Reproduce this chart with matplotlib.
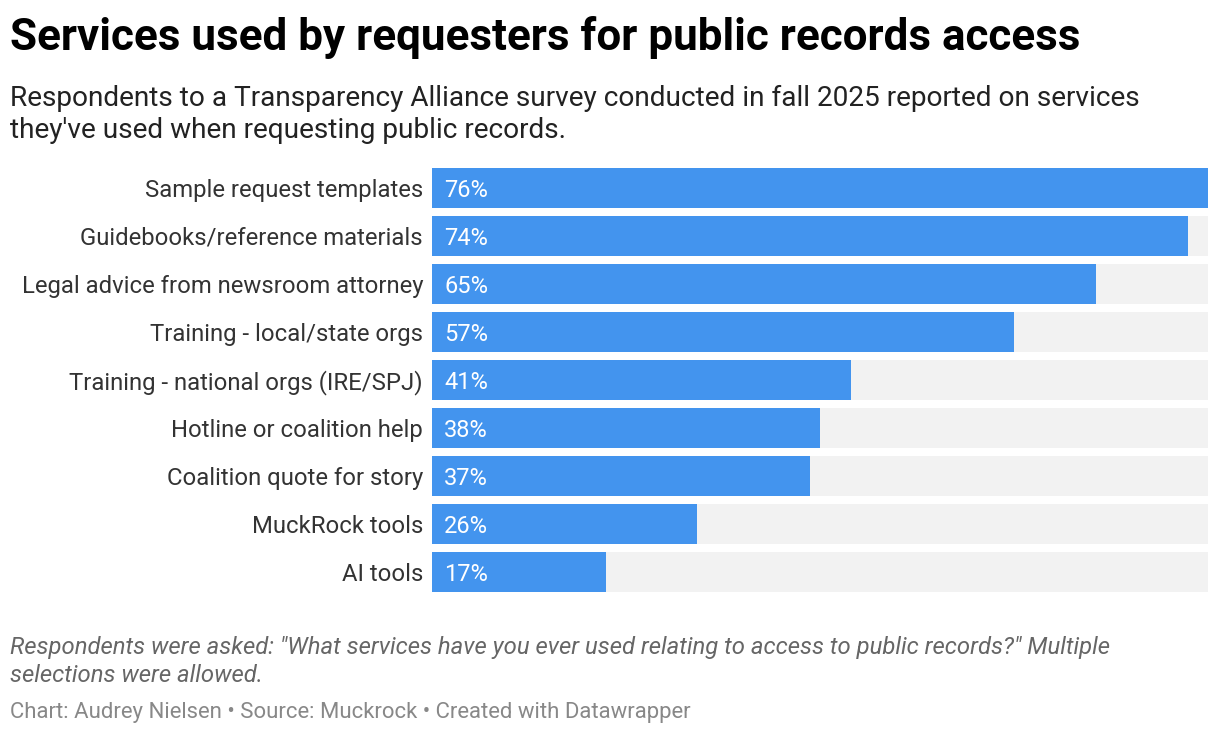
import matplotlib.pyplot as plt

plt.rcParams['font.family'] = ['Roboto', 'DejaVu Sans']

# ================= DATA =================
categories = [
    "Sample request templates",
    "Guidebooks/reference materials",
    "Legal advice from newsroom attorney",
    "Training - local/state orgs",
    "Training - national orgs (IRE/SPJ)",
    "Hotline or coalition help",
    "Coalition quote for story",
    "MuckRock tools",
    "AI tools",
]
values = [76, 74, 65, 57, 41, 38, 37, 26, 17]
max_value = 76

title = "Services used by requesters for public records access"
subtitle_lines = [
    "Respondents to a Transparency Alliance survey conducted in fall 2025 reported on services",
    "they've used when requesting public records.",
]
notes_lines = [
    "Respondents were asked: \"What services have you ever used relating to access to public records?\" Multiple",
    "selections were allowed.",
]
credit = "Chart: Audrey Nielsen \u2022 Source: Muckrock \u2022 Created with Datawrapper"

BAR_COLOR = "#4394ee"
BG_COLOR = "#f2f2f2"

W, H = 1220, 734
fig = plt.figure(figsize=(W / 100, H / 100), dpi=100)

# ================= BARS =================
ax = fig.add_axes([432 / W, 1 - 592 / H, (1208 - 432) / W, (592 - 168) / H])
n = len(categories)
ypos = list(range(n))
bar_h = 40 / 48

ax.barh(ypos, [max_value] * n, height=bar_h, color=BG_COLOR, zorder=1)
ax.barh(ypos, values, height=bar_h, color=BAR_COLOR, zorder=2)

ax.set_xlim(0, max_value)
ax.set_ylim(n - 1 + bar_h / 2, -bar_h / 2)
ax.axis("off")

for y, cat, v in zip(ypos, categories, values):
    ax.annotate(cat, xy=(0, y), xytext=(-9 * 0.72, 0), textcoords="offset points",
                ha="right", va="center_baseline", fontsize=17.2, color="#333333")
    ax.annotate(f"{v}%", xy=(0, y), xytext=(12 * 0.72, 0), textcoords="offset points",
                ha="left", va="center_baseline", fontsize=17, color="white", zorder=3)

# ================= TEXT =================
fig.text(10 / W, 1 - 50 / H, title, fontsize=31.7, fontweight="bold", color="#000000", va="baseline")
for i, line in enumerate(subtitle_lines):
    fig.text(10 / W, 1 - (106 + 32 * i) / H, line, fontsize=20.2, color="#222222", va="baseline")
for i, line in enumerate(notes_lines):
    fig.text(10 / W, 1 - (654 + 28 * i) / H, line, fontsize=17.2, style="italic",
             color="#666666", va="baseline")
fig.text(10 / W, 1 - 718 / H, credit, fontsize=15.9, color="#888888", va="baseline")

fig.savefig("out.png", dpi=100, facecolor="white")
